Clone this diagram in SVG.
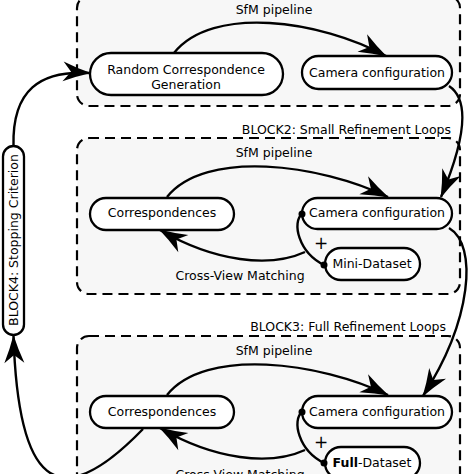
<svg xmlns="http://www.w3.org/2000/svg" width="474" height="474" viewBox="0 0 474 474">
<style>
.blk{fill:#f7f7f7;stroke:#000;stroke-width:2.2;stroke-dasharray:10,6}
.nd{fill:#fff;stroke:#000;stroke-width:2.3}
.t{font-family:"DejaVu Sans",Verdana,sans-serif;font-size:12.5px;fill:#000;text-anchor:middle}
.pl{font-family:"DejaVu Sans",Verdana,sans-serif;font-size:17px;fill:#000;text-anchor:middle}
.lb{font-family:"DejaVu Sans",Verdana,sans-serif;font-size:12.5px;fill:#000;text-anchor:end}
.c{fill:none;stroke:#000;stroke-width:2.4}
.a{marker-end:url(#ah)}
</style>
<defs>
<marker id="ah" markerUnits="userSpaceOnUse" markerWidth="30" markerHeight="22" refX="27" refY="10" orient="auto" overflow="visible">
<path d="M0,0 Q14,6 28,10 Q14,14 0,20 L8,10 Z" fill="#000"/>
</marker>
</defs>
<rect width="474" height="474" fill="#fff"/>
<g id="block1">
<rect class="blk" x="77" y="-4" width="383" height="110" rx="12"/>
<text class="t" x="274" y="14">SfM pipeline</text>
</g>
<g id="block2">
<rect class="blk" x="77" y="138" width="383" height="156" rx="12"/>
<text class="lb" x="451" y="134">BLOCK2: Small Refinement Loops</text>
<text class="t" x="274" y="157">SfM pipeline</text>
<text class="t" x="240" y="280">Cross-View Matching</text>
<text class="pl" x="321" y="249">+</text>
</g>
<g id="block3">
<rect class="blk" x="77" y="336" width="383" height="160" rx="12"/>
<text class="lb" x="446" y="331">BLOCK3: Full Refinement Loops</text>
<text class="t" x="274" y="355">SfM pipeline</text>
<text class="t" x="240" y="479">Cross-View Matching</text>
<text class="pl" x="321" y="448">+</text>
</g>
<g id="connectors">
<path class="c a" d="M174,53 C212,5 320,20 386,56"/>
<path class="c a" d="M167,197 C205,149 320,164 388,197"/>
<path class="c a" d="M167,395 C205,347 320,362 388,395"/>
<path class="c a" d="M305,252 C270,268 215,262 160,230"/>
<path class="c a" d="M305,450 C270,466 215,460 160,428"/>
<path class="c" d="M302,214 C292,222 298,252 324,265"/>
<path class="c" d="M302,412 C292,420 298,450 324,463"/>
<path class="c a" d="M449,86 C470,100 465,140 441,197"/>
<path class="c a" d="M449,228 C478,245 472,320 423,396"/>
<path class="c a" d="M143,429 C55,520 18,480 13.5,336"/>
<path class="c a" d="M13.5,146 C12,90 40,70 90,73"/>
</g>
<g id="n-random">
<rect class="nd" x="90" y="53" width="193" height="42" rx="21"/>
<text class="t" x="186" y="74">Random Correspondence</text>
<text class="t" x="186" y="89">Generation</text>
</g>
<g id="n-cam1">
<rect class="nd" x="302" y="56" width="150" height="33" rx="16.5"/>
<text class="t" x="377" y="77">Camera configuration</text>
</g>
<g id="n-corr2">
<rect class="nd" x="90" y="198" width="144" height="32" rx="16"/>
<text class="t" x="162" y="217">Correspondences</text>
</g>
<g id="n-cam2">
<rect class="nd" x="302" y="198" width="150" height="31" rx="15.5"/>
<text class="t" x="377" y="217">Camera configuration</text>
</g>
<g id="n-mini">
<rect class="nd" x="325" y="248" width="95" height="32" rx="16"/>
<text class="t" x="372" y="268">Mini-Dataset</text>
</g>
<g id="n-corr3">
<rect class="nd" x="90" y="396" width="144" height="32" rx="16"/>
<text class="t" x="162" y="416">Correspondences</text>
</g>
<g id="n-cam3">
<rect class="nd" x="302" y="396" width="150" height="32" rx="16"/>
<text class="t" x="377" y="416">Camera configuration</text>
</g>
<g id="n-full">
<rect class="nd" x="325" y="447" width="95" height="32" rx="16"/>
<text class="t" x="372" y="467"><tspan font-weight="bold">Full</tspan>-Dataset</text>
</g>
<g id="n-stop">
<rect class="nd" x="3" y="146" width="21" height="189" rx="10.5"/>
<text class="t" transform="translate(18,240) rotate(-90)">BLOCK4: Stopping Criterion</text>
</g>
<g id="dots">
<circle cx="302" cy="214" r="3.5"/>
<circle cx="324" cy="265" r="3.5"/>
<circle cx="302" cy="412" r="3.5"/>
<circle cx="324" cy="463" r="3.5"/>
</g>
</svg>
